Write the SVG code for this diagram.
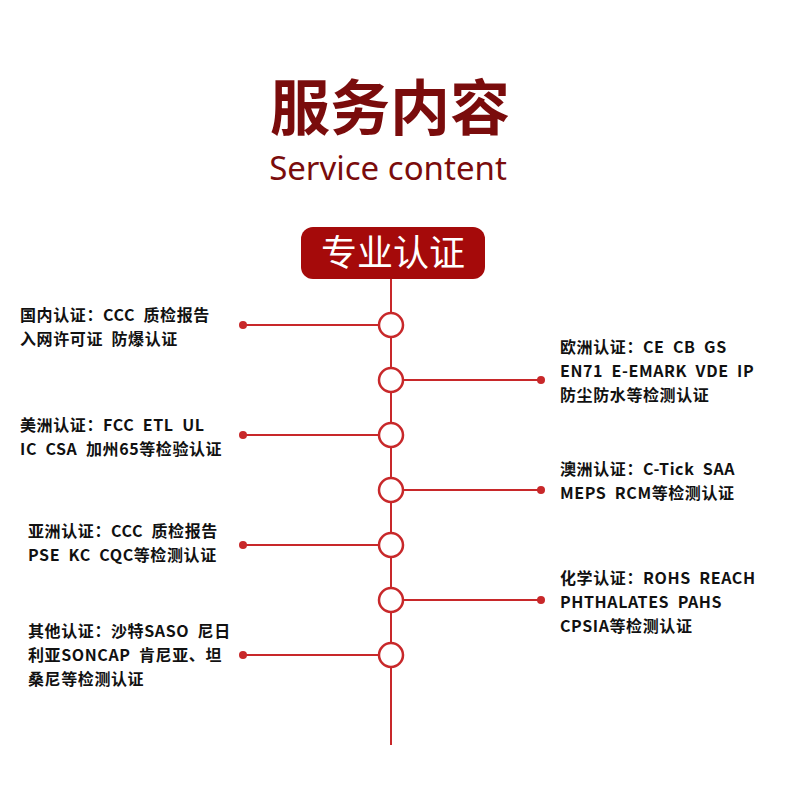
<svg xmlns="http://www.w3.org/2000/svg" width="790" height="812" viewBox="0 0 790 812">
<style>
.t{font-family:"Noto Sans CJK SC","Noto Sans",sans-serif;font-size:16px;font-weight:bold;fill:#111;white-space:pre;letter-spacing:0.6px}
.c{fill:#fff;stroke:#c8282a;stroke-width:2.5}
.l{stroke:#c8282a;stroke-width:2;fill:none}
.d{fill:#c8282a}
</style>
<rect width="790" height="812" fill="#fff"/>
<g id="title">
<text x="390" y="130" text-anchor="middle" font-family="Noto Sans CJK SC,sans-serif" font-size="60" font-weight="bold" fill="#7a0c0c">服务内容</text>
<text x="388" y="180" text-anchor="middle" font-family="Noto Sans,sans-serif" font-size="33" fill="#7a0c0c">Service content</text>
</g>
<g id="connectors">
<path class="l" d="M391 279V745"/>
<path class="l" d="M243 325H379M403 380H541M243 435H379M403 490H541M243 545H379M403 600H541M243 655H379"/>
<circle class="d" cx="243" cy="325" r="4"/><circle class="d" cx="541" cy="380" r="4"/>
<circle class="d" cx="243" cy="435" r="4"/><circle class="d" cx="541" cy="490" r="4"/>
<circle class="d" cx="243" cy="545" r="4"/><circle class="d" cx="541" cy="600" r="4"/>
<circle class="d" cx="243" cy="655" r="4"/>
</g>
<g id="header">
<rect x="301" y="227" width="184" height="52" rx="12" fill="#a50a0a"/>
<text x="393" y="266" text-anchor="middle" font-family="Noto Sans CJK SC,sans-serif" font-size="36" fill="#fff">专业认证</text>
</g>
<g id="circles">
<circle class="c" cx="391" cy="325" r="12"/><circle class="c" cx="391" cy="380" r="12"/>
<circle class="c" cx="391" cy="435" r="12"/><circle class="c" cx="391" cy="490" r="12"/>
<circle class="c" cx="391" cy="545" r="12"/><circle class="c" cx="391" cy="600" r="12"/>
<circle class="c" cx="391" cy="655" r="12"/>
</g>
<g id="n1"><text class="t" x="20" y="321">国内认证：CCC  质检报告</text><text class="t" x="20" y="345">入网许可证  防爆认证</text></g>
<g id="n2"><text class="t" x="560" y="353">欧洲认证：CE  CB  GS</text><text class="t" x="560" y="377">EN71  E-EMARK  VDE  IP</text><text class="t" x="560" y="401">防尘防水等检测认证</text></g>
<g id="n3"><text class="t" x="20" y="431">美洲认证：FCC  ETL  UL</text><text class="t" x="20" y="455">IC  CSA  加州65等检验认证</text></g>
<g id="n4"><text class="t" x="560" y="475">澳洲认证：C-Tick  SAA</text><text class="t" x="560" y="499">MEPS  RCM等检测认证</text></g>
<g id="n5"><text class="t" x="28" y="537">亚洲认证：CCC  质检报告</text><text class="t" x="28" y="561">PSE  KC  CQC等检测认证</text></g>
<g id="n6"><text class="t" x="560" y="584">化学认证：ROHS  REACH</text><text class="t" x="560" y="608">PHTHALATES  PAHS</text><text class="t" x="560" y="632">CPSIA等检测认证</text></g>
<g id="n7"><text class="t" x="28" y="637">其他认证：沙特SASO  尼日</text><text class="t" x="28" y="661">利亚SONCAP  肯尼亚、坦</text><text class="t" x="28" y="685">桑尼等检测认证</text></g>
</svg>
